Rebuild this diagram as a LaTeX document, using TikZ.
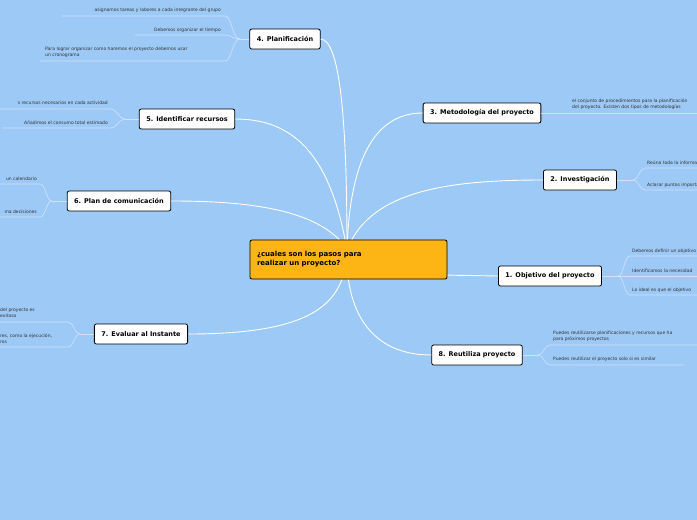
\documentclass[tikz,border=0pt]{standalone}
\usepackage{fontspec}
\setmainfont{DejaVu Sans}
\begin{document}
\begin{tikzpicture}[x=1pt,y=-1pt,
  topic/.style={draw=black,line width=0.8pt,fill=white,rounded corners=2pt,minimum height=20pt,inner xsep=7pt,font=\fontsize{6.5}{7}\selectfont\bfseries},
  sub/.style={inner sep=0pt,font=\fontsize{4.5}{6}\selectfont,text=black!80,align=left},
  con/.style={draw=white,line width=0.9pt},
  sl/.style={draw=white!75!blue!30,line width=0.6pt,opacity=0.7}]
\useasboundingbox[fill={rgb,255:red,156;green,201;blue,245}] (0,0) rectangle (697,520);
\coordinate (o) at (347,250);
\coordinate (ce) at (440,275);
\node[topic] (t4) at (285,39) {4. Planificación};
\node[topic] (t5) at (187,119) {5. Identificar recursos};
\node[topic] (t6) at (119,201) {6. Plan de comunicación};
\node[topic] (t7) at (141,334) {7. Evaluar al Instante};
\node[topic] (t3) at (482,113) {3. Metodología del proyecto};
\node[topic] (t2) at (580,180) {2. Investigación};
\node[topic] (t1) at (550,276) {1. Objetivo del proyecto};
\node[topic] (t8) at (477,355) {8. Reutiliza proyecto};
\draw[con] (o) .. controls (347,120) and (340,40) .. (t4.east);
\draw[con] (o) .. controls (330,150) and (290,119) .. (t5.east);
\draw[con] (o) .. controls (320,205) and (230,201) .. (t6.east);
\draw[con] (o) .. controls (345,300) and (320,334) .. (t7.east);
\draw[con] (o) .. controls (350,150) and (380,113) .. (t3.west);
\draw[con] (o) .. controls (370,190) and (450,180) .. (t2.west);
\draw[con] (ce) -- (t1.west);
\draw[con] (o) .. controls (345,310) and (370,355) .. (t8.west);
\node[draw=black,line width=0.8pt,fill={rgb,255:red,253;green,181;blue,21},rounded corners=2pt,minimum width=197pt,minimum height=39pt,text width=183pt,align=left,font=\fontsize{7}{9}\selectfont\bfseries] (c) at (348.5,259.5) {¿cuales son los pasos para\\realizar un proyecto?};
% 4
\coordinate (b4) at (240,39);
\draw[sl] (t4.west) -- (b4);
\draw[sl] (b4) .. controls (232,39) and (232,16) .. (225,16) -- (62,16);
\draw[sl] (b4) .. controls (232,39) and (232,35) .. (225,35) -- (135,35);
\draw[sl] (b4) .. controls (232,39) and (232,61) .. (225,61) -- (40,61);
\node[sub,anchor=east] (s41) at (221,10) {asignamos tareas y labores a cada integrante del grupo};
\node[sub,anchor=east] (s42) at (221,30) {Debemos organizar el tiempo};
\node[sub,anchor=west] (s43) at (45,52) {Para lograr organizar como haremos el proyecto debemos usar\\un cronograma};
% 5
\coordinate (b5) at (125,119);
\draw[sl] (t5.west) -- (b5);
\draw[sl] (b5) .. controls (118,119) and (118,109) .. (110,109) -- (0,109);
\draw[sl] (b5) .. controls (118,119) and (118,128) .. (110,128) -- (2,128);
\node[sub,anchor=east] (s51) at (108,103) {s recursos necesarios en cada actividad};
\node[sub,anchor=east] (s52) at (108,123) {Añadimos el consumo total estimado};
% 6
\coordinate (b6) at (52,201);
\draw[sl] (t6.west) -- (b6);
\draw[sl] (b6) .. controls (46,201) and (46,184) .. (40,184) -- (0,184);
\draw[sl] (b6) .. controls (46,201) and (46,217) .. (40,217) -- (0,217);
\node[sub,anchor=east] (s61) at (37,179) {un calendario};
\node[sub,anchor=east] (s62) at (37,212) {ma decisiones};
% 7
\coordinate (b7) at (80,334);
\draw[sl] (t7.west) -- (b7);
\draw[sl] (b7) .. controls (74,334) and (74,322) .. (68,322) -- (0,322);
\draw[sl] (b7) .. controls (74,334) and (74,347) .. (68,347) -- (0,347);
\node[sub,anchor=west] (s71) at (0,312.5) {del proyecto es\\ exitoso};
\node[sub,anchor=west] (s72) at (0,338.5) {res, como la ejecución,\\ros};
% 3
\draw[sl] (t3.east) -- (697,113);
\node[sub,anchor=west] (s31) at (572,104.5) {el conjunto de procedimientos para la planificación\\del proyecto. Existen dos tipos de metodologías};
% 2
\coordinate (b2) at (633,180);
\draw[sl] (t2.east) -- (b2);
\draw[sl] (b2) .. controls (639,180) and (639,168) .. (645,168) -- (697,168);
\draw[sl] (b2) .. controls (639,180) and (639,190) .. (645,190) -- (697,190);
\node[sub,anchor=west] (s21) at (647,163) {Reúna toda la información};
\node[sub,anchor=west] (s22) at (647,185) {Aclarar puntos importantes};
% 1
\coordinate (b1) at (618,276);
\draw[sl] (t1.east) -- (b1);
\draw[sl] (b1) .. controls (624,276) and (624,256) .. (630,256) -- (697,256);
\draw[sl] (b1) -- (697,276);
\draw[sl] (b1) .. controls (624,276) and (624,295) .. (630,295) -- (697,295);
\node[sub,anchor=west] (s11) at (632,251) {Debemos definir un objetivo};
\node[sub,anchor=west] (s12) at (632,271) {Identificamos la necesidad};
\node[sub,anchor=west] (s13) at (632,290) {Lo ideal es que el objetivo};
% 8
\coordinate (b8) at (538,355);
\draw[sl] (t8.east) -- (b8);
\draw[sl] (b8) .. controls (544,355) and (544,345) .. (550,345) -- (697,345);
\draw[sl] (b8) .. controls (544,355) and (544,365) .. (550,365) -- (684,365);
\node[sub,anchor=west] (s81) at (553,336.5) {Puedes reutilizarse planificaciones y recursos que ha\\para próximos proyectos};
\node[sub,anchor=west] (s82) at (553,359) {Puedes reutilizar el proyecto solo si es similar};
\end{tikzpicture}
\end{document}
